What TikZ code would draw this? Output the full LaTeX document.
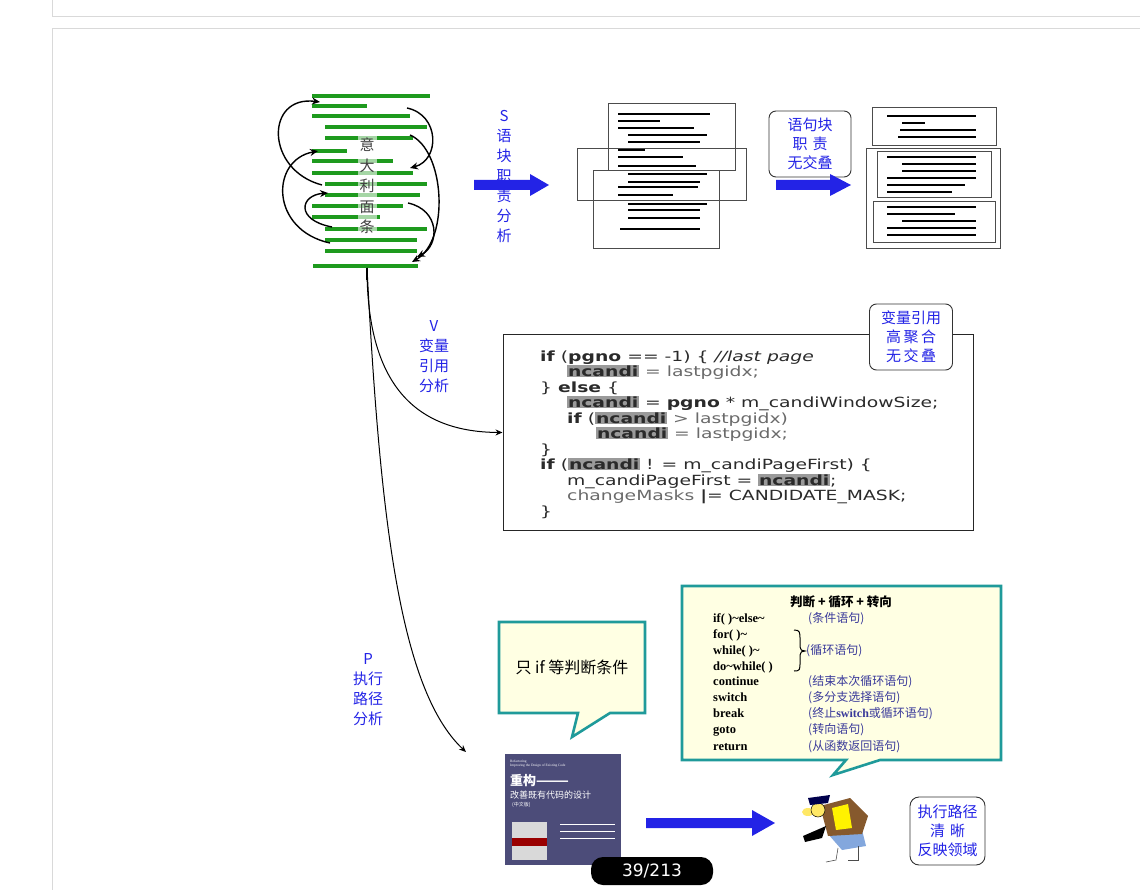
\documentclass[tikz,border=0pt]{standalone}
\usepackage{fontspec}
\usepackage{graphicx}
\setmainfont{Liberation Serif}
\newfontfamily\cjk{Noto Sans CJK SC}
\newfontfamily\codef{DejaVu Sans}
\usetikzlibrary{arrows.meta}
\definecolor{lblue}{HTML}{2323E6}
\definecolor{grn}{HTML}{1E9A1E}
\definecolor{teal}{HTML}{1F9A9A}
\definecolor{bub}{HTML}{FFFFE3}
\definecolor{hlgray}{HTML}{9A9A9A}
\definecolor{cdark}{HTML}{2A2A2A}
\definecolor{cgray}{HTML}{6A6A6A}
\definecolor{desc}{HTML}{3A3A9A}
\newcommand\hlc[1]{{\setlength{\fboxsep}{0.6pt}\colorbox{hlgray}{\textbf{#1}}}}
\newcommand\wide[1]{\scalebox{1.34}[1]{#1}}
\tikzset{
 blab/.style={font=\cjk\fontsize{15}{20}\selectfont, text=lblue, align=center, inner sep=0},
 rbox/.style={draw=black!80, rounded corners=7pt, line width=0.9pt, fill=white, font=\cjk\fontsize{15}{18}\selectfont, text=lblue, align=center, inner sep=3pt},
 gl/.style={grn, line width=3.6pt},
 pg/.style={draw=black!70, line width=0.8pt},
 cl/.style={anchor=base west, inner sep=0, font=\codef\fontsize{14}{15}\selectfont, text=cdark},
 arc/.style={-{Stealth[length=8pt,width=7pt]}, line width=1.4pt},
 bubble/.style={draw=teal, line width=2.6pt, fill=bub, line join=miter},
 kw/.style={anchor=base west, inner sep=0, font=\bfseries\fontsize{12.5}{13}\selectfont},
 ds/.style={anchor=base west, inner sep=0, font=\cjk\fontsize{12}{13}\selectfont, text=desc},
}
\begin{document}
\begin{tikzpicture}[x=1pt,y=-1pt]
\useasboundingbox (0,0) rectangle (1140,890);
% page frames
\draw[black!15, line width=1pt] (52,0) -- (52,17) -- (1140,17);
\draw[black!15, line width=1pt] (52,890) -- (52,29) -- (1140,29);

% green text lines
\foreach \xa/\xb/\y in {312/430/96,312/367/106,312/410/116,325/427/127,325/413/138,312/347/151,312/393/161,312/413/173,325/427/184,325/420/195,312/403/206,312/380/217,325/427/229,325/417/240,325/417/251,313/418/266}
  \draw[gl] (\xa,\y) -- (\xb,\y);
\node[fill=white, fill opacity=0.6, text opacity=1, inner sep=2pt, font=\cjk\fontsize{15}{20.5}\selectfont, text=black!75, align=center] (yd) at (367,186) {意\\大\\利\\面\\条};
% loops
\draw[arc] (322,185) .. controls (265,170) and (265,95) .. (320,102);
\draw[arc] (407,108) .. controls (440,115) and (440,160) .. (410,168);
\draw[arc] (410,135) .. controls (445,150) and (450,240) .. (412,262);
\draw[arc] (330,243) .. controls (270,230) and (270,160) .. (318,151);
\draw[arc] (332,227) .. controls (295,220) and (300,195) .. (328,193);
\draw[arc] (408,203) .. controls (440,210) and (440,245) .. (417,257);
\coordinate (st) at (367,268);
\draw[line width=1.2pt] (367,268) -- (367,280);

% S label and arrow
\node[blab] (sl) at (504,177) {S\\语\\块\\职\\责\\分\\析};
\fill[lblue] (474,180) -- (530,180) -- (530,174) -- (549,185) -- (530,196) -- (530,190) -- (474,190) -- cycle;

% left overlapping boxes
\draw[pg] (608,103) rectangle (735,170);
\draw[pg] (577,148) rectangle (746,200);
\draw[pg] (593,170) rectangle (719,248);
\foreach \xa/\xb/\y in {618/710/114,618/660/121,618/694/128,628/707/135,628/700/142,618/645/150,618/683/157,618/696/166,628/707/174,628/700/182,618/698/187,618/673/195,628/707/204,628/700/210,628/700/218,620/700/229}
  \draw[black, line width=2.3pt] (\xa,\y) -- (\xb,\y);
\node[rbox, minimum width=82pt, minimum height=66pt, font=\cjk\fontsize{15}{19}\selectfont] (sb) at (810,144) {语句块\\职\,\,责\\无交叠};
\fill[lblue] (776,180) -- (830,180) -- (830,174) -- (851,185) -- (830,196) -- (830,190) -- (776,190) -- cycle;
% right boxes
\draw[pg] (872,107) rectangle (996,145);
\draw[pg] (866,148) rectangle (1000,248);
\draw[pg] (877,151) rectangle (991,197);
\draw[pg] (873,201) rectangle (995,242);
\foreach \xa/\xb/\y in {887/976/116,902/925/123,900/976/130,898/976/137,887/976/157,902/976/164,902/976/171,887/976/178,887/965/185,887/952/192,887/976/207,887/955/214,902/976/221,887/976/228,887/976/235}
  \draw[black, line width=2.3pt] (\xa,\y) -- (\xb,\y);

% V label
\node[blab] (vl) at (434,357) {V\\变量\\引用\\分析};
% code box
\node[draw=black!85, line width=1pt, minimum width=470pt, minimum height=195pt, inner sep=0] (code) at (738,432.5) {};
\node[cl] (c1) at (540,361) {\wide{\textbf{if} (\textbf{pgno} == -1) \{ \textit{//last page}}};
\node[cl] (c2) at (567,376.5) {\wide{\hlc{ncandi} \textcolor{cgray}{= lastpgidx;}}};
\node[cl] (c3) at (540,392) {\wide{\} \textbf{else} \{}};
\node[cl] (c4) at (567,407.5) {\wide{\hlc{ncandi} = \textbf{pgno} * m\_candiWindowSize;}};
\node[cl] (c5) at (567,423) {\wide{\textbf{if} (\hlc{ncandi} \textcolor{cgray}{> lastpgidx)}}};
\node[cl] (c6) at (596,438.5) {\wide{\hlc{ncandi} \textcolor{cgray}{= lastpgidx;}}};
\node[cl] (c7) at (540,454) {\wide{\}}};
\node[cl] (c8) at (540,469.5) {\wide{\textbf{if} (\hlc{ncandi} ! = m\_candiPageFirst) \{}};
\node[cl] (c9) at (567,485) {\wide{m\_candiPageFirst = \hlc{ncandi};}};
\node[cl] (c10) at (567,500.5) {\wide{\textcolor{cgray}{changeMasks} \textbf{|}= CANDIDATE\_MASK;}};
\node[cl] (c11) at (540,516) {\wide{\}}};
\node[rbox, minimum width=83pt, minimum height=66pt, font=\cjk\fontsize{15}{19}\selectfont] (vb) at (911,337) {变量引用\\高\,聚\,合\\无\,交\,叠};

% P label
\node[blab] (pl) at (368,690) {P\\执行\\路径\\分析};

% connectors from spaghetti
\draw[-{Stealth[length=7pt,width=6pt]}, line width=1pt] (st) .. controls (367,390) and (420,432) .. (code.west);
\coordinate (bk) at (466,752);
\draw[-{Stealth[length=7pt,width=6pt]}, line width=1pt] (st) .. controls (380,520) and (400,690) .. (bk);

% small bubble
\draw[bubble] (499,622) -- (645,622) -- (645,713) -- (610,713) -- (572,737) -- (578,713) -- (499,713) -- cycle;
\node[font=\cjk\fontsize{16}{18}\selectfont, inner sep=0] (sq) at (572,667) {只 if 等判断条件};

% big bubble
\draw[bubble] (682,586) -- (1001,586) -- (1001,760) -- (880,760) -- (833,775) -- (846,760) -- (682,760) -- cycle;
\node[font=\cjk\bfseries\fontsize{12.5}{14}\selectfont, inner sep=0] (tt) at (841,602) {判断 + 循环 + 转向};
\foreach \t/\y in {{if( )\textasciitilde else\textasciitilde}/622,{for( )\textasciitilde}/638,{while( )\textasciitilde}/654,{do\textasciitilde while( )}/670,continue/685,switch/701,break/717,goto/733,return/750}
  \node[kw] at (713,\y) {\t};
\node[ds] at (808,622) {(条件语句)};
\node[ds] at (806,654) {(循环语句)};
\draw[line width=1pt] (794,630) .. controls (800,630) and (800,632) .. (800,640) -- (800,647) .. controls (800,650) and (802,651) .. (805,651) .. controls (802,651) and (800,652) .. (800,655) -- (800,662) .. controls (800,670) and (800,671) .. (794,671);
\node[ds] at (808,685) {(结束本次循环语句)};
\node[ds] at (808,701) {(多分支选择语句)};
\node[ds] at (808,717) {(终止\textbf{\rmfamily switch}或循环语句)};
\node[ds] at (808,733) {(转向语句)};
\node[ds] at (808,750) {(从函数返回语句)};

% book
\node[fill=black!75!blue!70, minimum width=116pt, minimum height=111pt, inner sep=0] (book) at (563,809.5) {};
\node[anchor=west, text=white, font=\fontsize{3.5}{4}\selectfont, align=left, inner sep=0] at (510,764) {Refactoring\\Improving the Design of Existing Code};
\node[anchor=west, text=white, font=\cjk\bfseries\fontsize{13}{14}\selectfont, inner sep=0] (bt) at (510,781) {重构———};
\node[anchor=west, text=white, font=\cjk\fontsize{9}{10}\selectfont, inner sep=0] at (510,795) {改善既有代码的设计};
\node[anchor=west, text=white, font=\cjk\fontsize{5}{6}\selectfont, inner sep=0] at (512,805) {(中文版)};
\fill[white!85!black] (512,822) rectangle (547,860);
\fill[red!60!black] (512,838) rectangle (547,846);
\foreach \y in {824,831,838}\draw[white!70, line width=0.6pt] (560,\y) -- (615,\y);

\fill[lblue] (646,818) -- (752,818) -- (752,810) -- (775,823) -- (752,836) -- (752,828) -- (646,828) -- cycle;

% cartoon person
\begin{scope}
\fill[cyan!50!blue!50] (828,834) -- (862,830) -- (866,846) -- (842,850) -- cycle;
\draw[black!70, line width=0.6pt] (838,848) -- (836,860) -- (826,862);
\draw[black!70, line width=0.6pt] (858,846) -- (858,860) -- (848,860);
\fill[brown!70!black] (820,806) -- (850,798) -- (868,816) -- (862,834) -- (828,836) -- cycle;
\fill[yellow] (832,808) -- (848,804) -- (852,828) -- (836,830) -- cycle;
\fill[orange!30!yellow!60!white] (818,810) circle (7pt);
\fill[orange!30!yellow!60!white] (808,812) ellipse (6pt and 4pt);
\draw[black, line width=0.5pt] (818,810) circle (7pt);
\fill[blue!30!black] (808,798) -- (830,795) -- (828,803) -- (810,805) -- cycle;
\fill[black] (803,836) -- (826,826) -- (822,838) -- (805,842) -- cycle;
\end{scope}
\node[rbox, minimum width=75pt, minimum height=68pt, font=\cjk\fontsize{15}{19}\selectfont, rounded corners=9pt] (eb) at (947.5,831) {执行路径\\清\,\,晰\\反映领域};

% page indicator
\node[fill=black, rounded corners=12pt, minimum width=122pt, minimum height=28pt, text=white, font=\codef\fontsize{17}{18}\selectfont, inner sep=0] (pn) at (652,871) {39/213};
\end{tikzpicture}
\end{document}
